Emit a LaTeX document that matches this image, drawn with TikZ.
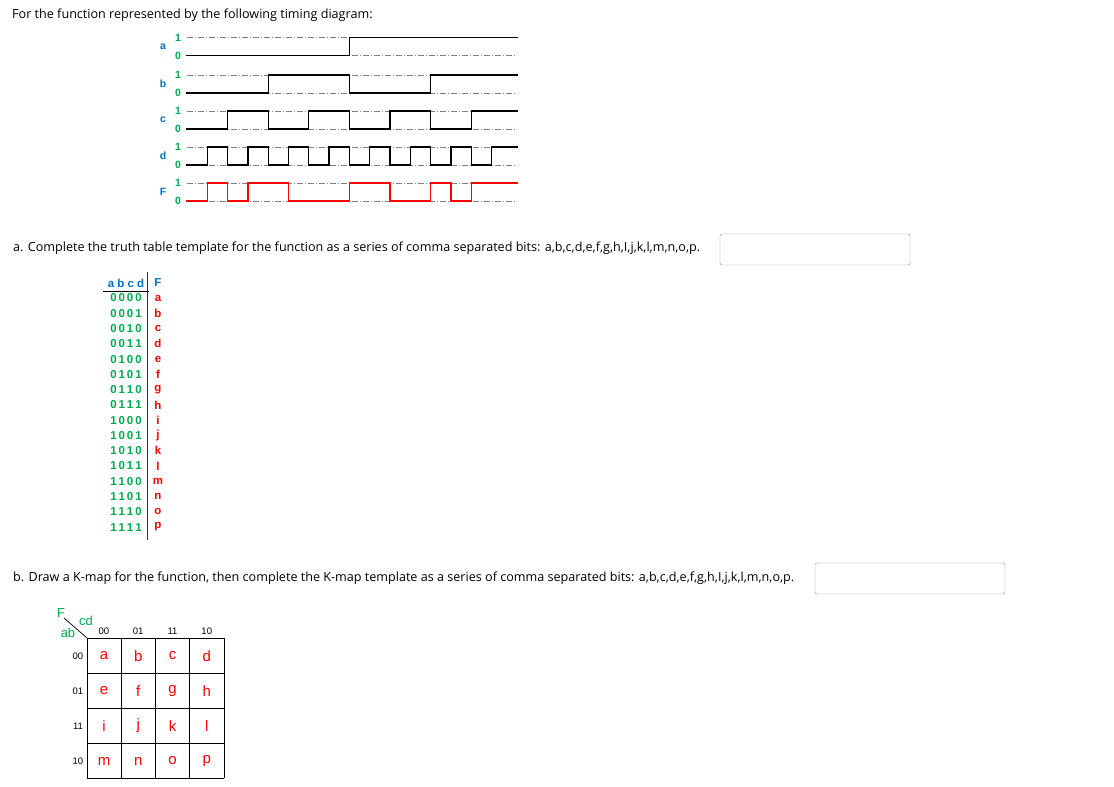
\documentclass[tikz,border=0pt]{standalone}
\usepackage{fontspec}
\setmainfont{Open Sans}
\setsansfont{Liberation Sans}
\definecolor{tgreen}{RGB}{0,168,80}
\definecolor{tblue}{RGB}{0,112,192}
\definecolor{tred}{RGB}{255,0,0}
\begin{document}
\begin{tikzpicture}[x=1pt,y=-1pt,
  txt/.style={anchor=west,inner sep=0,font=\fontsize{12.6}{14}\selectfont},
  ansbox/.style={draw=black!45,rounded corners=2pt,minimum width=190pt,minimum height=31pt,inner sep=0},
  grid/.style={draw=gray,dash pattern=on 6pt off 2pt on 1pt off 2pt,line width=0.6pt},
  sig/.style={line width=1.3pt},
  lab/.style={font=\sffamily\bfseries\fontsize{10.5}{12}\selectfont,inner sep=0},
  tt/.style={font=\sffamily\bfseries\fontsize{11.5}{13}\selectfont,inner sep=0},
  km/.style={font=\sffamily\fontsize{15}{17}\selectfont,text=tred,inner sep=0}]
\useasboundingbox (0,0) rectangle (1114,787);
\node[txt] (t1) at (12,15) {For the function represented by the following timing diagram:};
% timing
\def\xs{187}\def\w{20.3}
\foreach \n/\yo [count=\k] in {a/37.7,b/75,c/111,d/147,F/183}{
  \draw[grid] (\xs,\yo) -- (517,\yo);
  \draw[grid] (\xs,\yo+18) -- (517,\yo+18);
  \node[lab,text=tblue] (L\k) at (163,\yo+9) {\n};
  \node[lab,text=tgreen] (one\k) at (178,\yo) {1};
  \node[lab,text=tgreen] (zero\k) at (178,\yo+18) {0};
}
\foreach \yo/\bits/\col in {
 37.7/{0,0,0,0,0,0,0,0,1,1,1,1,1,1,1,1}/black,
 75/{0,0,0,0,1,1,1,1,0,0,0,0,1,1,1,1}/black,
 111/{0,0,1,1,0,0,1,1,0,0,1,1,0,0,1,1}/black,
 147/{0,1,0,1,0,1,0,1,0,1,0,1,0,1,0,1}/black,
 183/{0,1,0,1,1,0,0,0,1,1,0,0,1,0,1,1}/tred}{
  \foreach \b [count=\i from 0] in \bits {
    \pgfmathsetmacro{\xa}{\xs+\i*\w}
    \pgfmathsetmacro{\xb}{\i==15 ? 517 : \xs+(\i+1)*\w}
    \pgfmathsetmacro{\yy}{\yo+18*(1-\b)}
    \draw[sig,draw=\col,line cap=rect] (\xa,\yy) -- (\xb,\yy);
  }
  \foreach \b [count=\i from 0,remember=\b as \pb (initially x)] in \bits {
    \ifnum\i>0
      \if\pb\b\else
        \pgfmathsetmacro{\xa}{\xs+\i*\w}
        \draw[sig,draw=\col] (\xa,\yo) -- (\xa,\yo+18);
      \fi
    \fi
  }
}
% part a
\node[txt] (qa) at (13,248) {a. Complete the truth table template for the function as a series of comma separated bits: a,b,c,d,e,f,g,h,I,j,k,l,m,n,o,p.};
\node[ansbox] (boxa) at (815,249.5) {};
% truth table
\node[tt,text=tblue] (hd) at (126,283) {a b c d};
\node[tt,text=tblue] (hF) at (158,283) {F};
\draw[line width=0.8pt] (103,291) -- (149,291);
\draw[line width=1pt,black!80] (147,272) -- (147,540);
\foreach \pa/\pb/\pc/\pd/\l [count=\r from 0] in {0/0/0/0/a,0/0/0/1/b,0/0/1/0/c,0/0/1/1/d,0/1/0/0/e,0/1/0/1/f,0/1/1/0/g,0/1/1/1/h,1/0/0/0/i,1/0/0/1/j,1/0/1/0/k,1/0/1/1/l,1/1/0/0/m,1/1/0/1/n,1/1/1/0/o,1/1/1/1/p}{
  \node[tt,text=tgreen] (row\r) at (126,298+\r*15.27) {\pa\,\pb\,\pc\,\pd};
  \node[tt,text=tred] (F\r) at (158,298+\r*15.27) {\l};
}
% part b
\node[txt] (qb) at (13,578) {b. Draw a K-map for the function, then complete the K-map template as a series of comma separated bits: a,b,c,d,e,f,g,h,I,j,k,l,m,n,o,p.};
\node[ansbox] (boxb) at (910,578.5) {};
% kmap
\def\cw{34.25}\def\ch{35}
\foreach \i in {0,...,4}{
  \draw[line width=0.9pt] (87+\i*\cw,638) -- (87+\i*\cw,778);
  \draw[line width=0.9pt] (87,638+\i*\ch) -- (224,638+\i*\ch);
}
\draw[line width=0.7pt] (64,618) -- (87,638);
\node[font=\sffamily\fontsize{13}{14}\selectfont,text=tgreen,inner sep=0] (kF) at (61,613) {F};
\node[font=\sffamily\fontsize{13}{14}\selectfont,text=tgreen,inner sep=0] (kcd) at (86,621) {cd};
\node[font=\sffamily\fontsize{13}{14}\selectfont,text=tgreen,inner sep=0] (kab) at (68,633) {ab};
\foreach \g [count=\i from 0] in {00,01,11,10}{
  \node[font=\sffamily\fontsize{9.5}{11}\selectfont,inner sep=0] (col\i) at (104+\i*\cw,631) {\g};
  \node[font=\sffamily\fontsize{9.5}{11}\selectfont,inner sep=0] (rw\i) at (78,656+\i*\ch) {\g};
}
\foreach \l [count=\k from 0] in {a,b,c,d,e,f,g,h,i,j,k,l,m,n,o,p}{
  \pgfmathtruncatemacro{\rr}{div(\k,4)}
  \pgfmathtruncatemacro{\cc}{mod(\k,4)}
  \node[km] (K\k) at (104+\cc*\cw,656+\rr*\ch) {\l};
}
\end{tikzpicture}
\end{document}
